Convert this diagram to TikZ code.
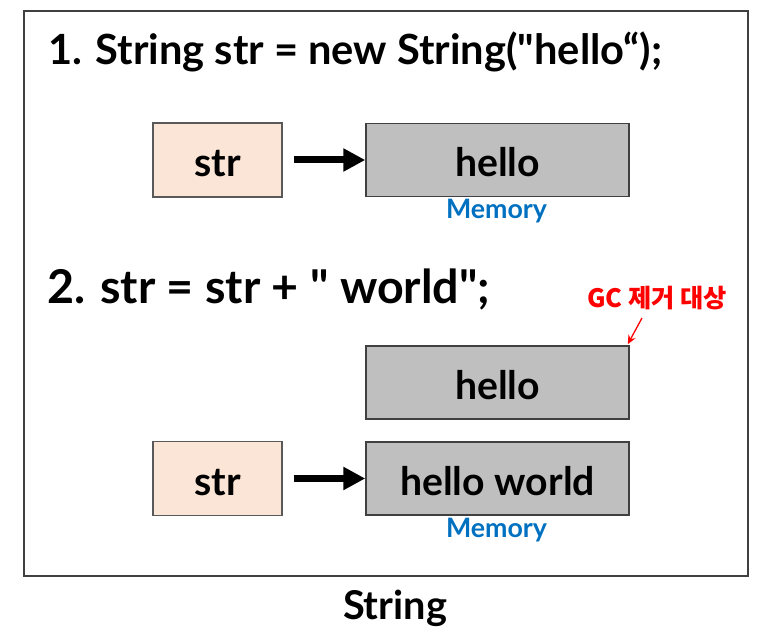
\documentclass[tikz,border=0pt]{standalone}
\usepackage{fontspec}
\setmainfont{Lato}[Ligatures=TeXOff]
\newfontfamily\kr{Noto Sans CJK KR}
\usetikzlibrary{arrows.meta}
\definecolor{strfill}{HTML}{FBE5D6}
\definecolor{memfill}{HTML}{BFBFBF}
\definecolor{memblue}{HTML}{0070C0}
\definecolor{gcred}{HTML}{FF0000}
\definecolor{frameline}{HTML}{404040}
\definecolor{strline}{HTML}{595959}
\newlength\fitw
% set the size that gives #2 the width #1, then print #3
\newcommand\fitas[3]{\settowidth\fitw{\fontsize{10pt}{12pt}\selectfont #2}%
  \pgfmathsetmacro\fitfs{10*#1/\fitw}\fontsize{\fitfs pt}{\fitfs pt}\selectfont #3}
\newcommand\fittext[2]{\fitas{#1}{#2}{#2}}
\begin{document}
\begin{tikzpicture}[x=1pt,y=-1pt,
  txt/.style={inner sep=0pt, font=\bfseries},
  strbox/.style={draw=strline, line width=1.3pt, fill=strfill, minimum width=129pt, minimum height=74pt, inner sep=0pt, text height=33pt, text depth=0pt, font=\bfseries},
  membox/.style={draw=frameline, line width=1.5pt, fill=memfill, minimum width=263pt, minimum height=73pt, inner sep=0pt, text height=33pt, text depth=0pt, font=\bfseries},
  bigarrow/.style={line width=7pt, -{Triangle[length=22pt,width=22pt]}},
  gcarrow/.style={draw=gcred, line width=1.3pt, -{Stealth[length=9pt,width=8pt]}}]
\useasboundingbox (0,0) rectangle (768,644);
\draw[frameline, line width=1.5pt] (24,11) rectangle (748,576);
% titles
\node[txt, anchor=base west] (t1) at (48,65) {\fittext{614}{1. String str = new String("hello“);}};
\node[txt, anchor=base west] (t2) at (47,303) {\fittext{443}{2. str = str + " world";}};
% row 1
\node[strbox] (s1) at (217.5,160) {\fitas{85}{hello}{str}};
\node[membox] (h1) at (497.5,160) {\fittext{85}{hello}};
\draw[bigarrow] ([xshift=11pt]s1.east) -- (h1.west);
\node[txt, anchor=base, text=memblue] (m1) at (496.5,219) {\fittext{101}{Memory}};
% row 2
\node[membox] (h2) at (497.5,382.5) {\fittext{85}{hello}};
\node[inner sep=0pt, anchor=base, text=gcred, font=\kr\bfseries] (gc) at (657,308) {\fittext{140}{GC 제거 대상}};
\coordinate (gctail) at (642,318);
\draw[gcarrow] (gctail) -- ([shift={(-2,-1)}]h2.north east);
% row 3
\node[strbox] (s3) at (217.5,478.5) {\fitas{85}{hello}{str}};
\node[membox] (h3) at (497.5,478.5) {\fitas{85}{hello}{hello world}};
\draw[bigarrow] ([xshift=11pt]s3.east) -- (h3.west);
\node[txt, anchor=base, text=memblue] (m2) at (496.5,537) {\fittext{101}{Memory}};
% caption
\node[txt, anchor=base] (cap) at (395,619) {\fittext{104}{String}};
\end{tikzpicture}
\end{document}
